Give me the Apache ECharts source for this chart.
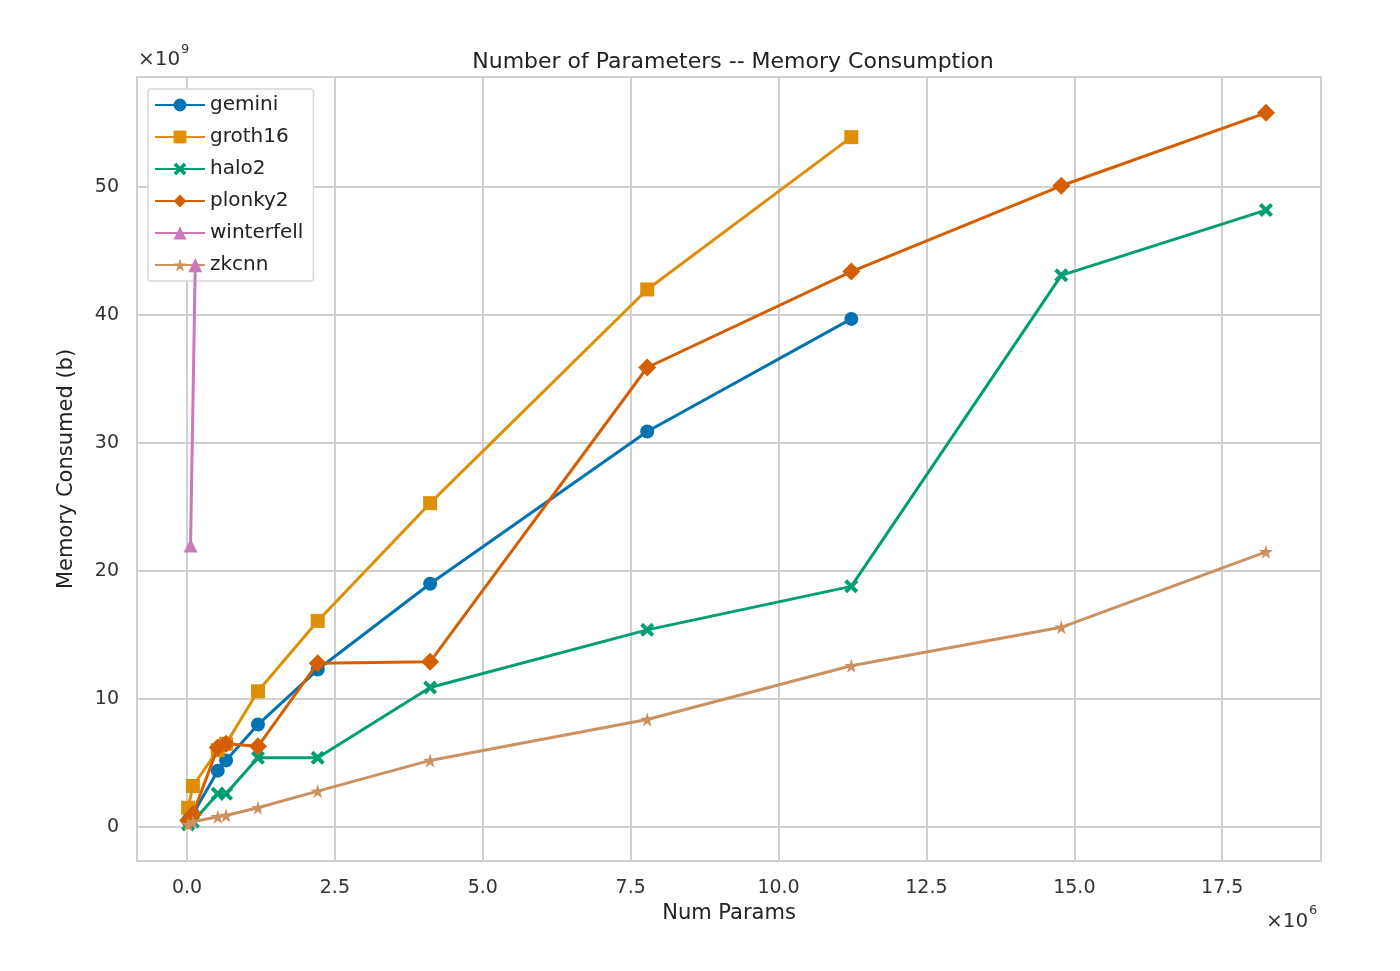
<!DOCTYPE html>
<html><head><meta charset="utf-8">
<script src="https://cdn.jsdelivr.net/npm/echarts@6/dist/echarts.min.js"></script>
<style>html,body{margin:0;padding:0;background:#fff}#c{width:1400px;height:971px}</style>
</head><body><div id="c"></div>
<script>
const names = ['gemini','groth16','halo2','plonky2','winterfell','zkcnn'];
const xGemini = [0.02,0.1,0.52,0.66,1.2,2.21,4.11,7.78,11.23];
const yGemini = [0.5,1.0,4.4,5.2,8.0,12.3,19.0,30.9,39.7];
const xGroth = [0.02,0.1,0.52,0.66,1.2,2.21,4.11,7.78,11.23];
const yGroth = [1.5,3.2,6.0,6.5,10.6,16.1,25.3,42.0,53.9];
const xHalo = [0.02,0.1,0.52,0.66,1.2,2.21,4.11,7.78,11.23,14.78,18.24];
const yHalo = [0.2,0.4,2.6,2.6,5.4,5.4,10.9,15.4,18.8,43.1,48.2];
const xPlonky = [0.02,0.1,0.52,0.66,1.2,2.21,4.11,7.78,11.23,14.78,18.24];
const yPlonky = [0.5,1.0,6.2,6.5,6.3,12.8,12.9,35.9,43.4,50.1,55.8];
const xWinter = [0.06,0.14];
const yWinter = [22.0,43.9];
const xZkcnn = [0.02,0.1,0.52,0.66,1.2,2.21,4.11,7.78,11.23,14.78,18.24];
const yZkcnn = [0.2,0.4,0.8,0.9,1.5,2.8,5.2,8.4,12.6,15.6,21.5];
const xTicks = [0,2.5,5,7.5,10,12.5,15,17.5];
const yTicks = [0,10,20,30,40,50];

const colors = ['#0173b2','#de8f05','#029e73','#d55e00','#cc78bc','#ca9161'];
const xPath = 'path://M2,0 L5,3 L8,0 L10,2 L7,5 L10,8 L8,10 L5,7 L2,10 L0,8 L3,5 L0,2 Z';
const starPath = 'path://M5,0 L6.2,3.6 L10,3.6 L6.9,5.9 L8.1,9.5 L5,7.3 L1.9,9.5 L3.1,5.9 L0,3.6 L3.8,3.6 Z';
const symbols = ['circle','rect',xPath,'diamond','triangle',starPath];
const sizes = [14,14,14,18,14,14];
const xs = [xGemini,xGroth,xHalo,xPlonky,xWinter,xZkcnn];
const ys = [yGemini,yGroth,yHalo,yPlonky,yWinter,yZkcnn];
const font = 'DejaVu Sans';

const series = names.map((n,i)=>({
  name:n, type:'line', data: xs[i].map((x,j)=>[x,ys[i][j]]),
  symbol:symbols[i], symbolSize:sizes[i], color:colors[i],
  lineStyle:{width:3}, itemStyle:{color:colors[i]}, z: 2+i
}));

const chart = echarts.init(document.getElementById('c'));
chart.setOption({
  backgroundColor:'#fff', animation:false,
  textStyle:{fontFamily:font},
  title:{text:'Number of Parameters -- Memory Consumption', left:728, top:46, textAlign:'center',
    textStyle:{fontFamily:font,fontWeight:'normal',fontSize:22,color:'#222'}},
  grid:{left:137,right:79,top:77,bottom:110,show:true,borderColor:'#d0d0d0',borderWidth:2},
  legend:{orient:'vertical', left:148, top:89, data:names, itemWidth:50, itemHeight:16, itemGap:12,
    borderColor:'#d8d8d8', borderWidth:1.5, borderRadius:3, padding:[6,10,6,6], backgroundColor:'#fff',
    textStyle:{fontFamily:font,fontSize:20,color:'#222'}},
  xAxis:{type:'value', min:-0.845, max:19.17, name:'Num Params', nameLocation:'middle', nameGap:40,
    nameTextStyle:{fontFamily:font,fontSize:21,color:'#222'},
    axisLine:{show:false}, axisTick:{show:false, customValues:xTicks},
    axisLabel:{customValues:xTicks, formatter:v=>v.toFixed(1), fontFamily:font,fontSize:19,color:'#333',margin:18},
    splitLine:{show:true,lineStyle:{color:'#d0d0d0',width:2}}},
  yAxis:{type:'value', min:-2.66, max:58.6, name:'Memory Consumed (b)', nameLocation:'middle', nameGap:60,
    nameTextStyle:{fontFamily:font,fontSize:21,color:'#222'},
    axisLine:{show:false}, axisTick:{show:false, customValues:yTicks},
    axisLabel:{customValues:yTicks, formatter:v=>String(v), fontFamily:font,fontSize:19,color:'#333',margin:18},
    splitLine:{show:true,lineStyle:{color:'#d0d0d0',width:2}}},
  graphic:[
    {type:'text', left:138, top:50, style:{text:'×10', font:'20px DejaVu Sans', fill:'#333'}},
    {type:'text', left:181, top:43, style:{text:'9', font:'13px DejaVu Sans', fill:'#333'}},
    {type:'text', left:1266, top:912, style:{text:'×10', font:'20px DejaVu Sans', fill:'#333'}},
    {type:'text', left:1309, top:904, style:{text:'6', font:'13px DejaVu Sans', fill:'#333'}}
  ],
  series
});
</script></body></html>
